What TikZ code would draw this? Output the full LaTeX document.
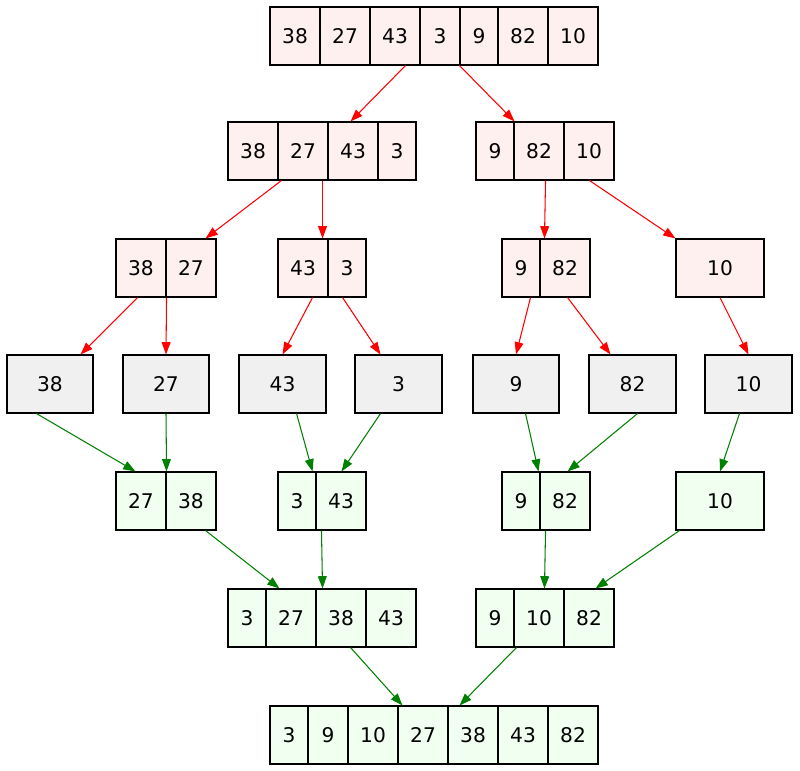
\documentclass[tikz,border=0pt]{standalone}
\usepackage{fontspec}
\setmainfont{DejaVu Sans}
\usetikzlibrary{arrows.meta}

\definecolor{splitfill}{HTML}{FFF0F0}
\definecolor{mergefill}{HTML}{F0FFF0}
\definecolor{leaffill}{HTML}{F0F0F0}
\definecolor{mergeline}{HTML}{008000}

\newcommand{\px}{*0.02cm}

% one array of cells: name, y, fill, list of left/right/label
\newcommand{\cellrow}[4]{%
  \foreach \l/\r/\t [count=\i] in {#4}
    \node[cell, fill=#3, minimum width={(\r-\l)\px}] (#1-\i) at ({(\l+\r)/2},#2) {\t};
}

\begin{document}
\begin{tikzpicture}[
            x = 0.02cm, y = -0.02cm, % pixel grid
            > = {Triangle[length=7pt,width=5pt]},
            line width = 0.6pt,
            cell/.style = {draw = black, inner sep = 0pt, minimum height = 1.16cm,
                           font = \fontsize{11.5}{13}\selectfont},
            split/.style = {->, red},
            merge/.style = {->, mergeline}
        ]

        \useasboundingbox (0,0) rectangle (800,770);

        % splitting
        \cellrow{top}{36}{splitfill}{270/320/38, 320/370/27, 370/420/43, 420/460/3, 460/498/9, 498/548/82, 548/598/10}
        \cellrow{la}{151}{splitfill}{228/278/38, 278/328/27, 328/378/43, 378/416/3}
        \cellrow{ra}{151}{splitfill}{476/514/9, 514/564/82, 564/614/10}
        \cellrow{lla}{268}{splitfill}{116/166/38, 166/216/27}
        \cellrow{lra}{268}{splitfill}{278/328/43, 328/366/3}
        \cellrow{rla}{268}{splitfill}{502/540/9, 540/590/82}
        \cellrow{rra}{268}{splitfill}{676/764/10}

        % single items
        \cellrow{s1}{384}{leaffill}{7/93/38}
        \cellrow{s2}{384}{leaffill}{123/209/27}
        \cellrow{s3}{384}{leaffill}{239/326/43}
        \cellrow{s4}{384}{leaffill}{355/442/3}
        \cellrow{s5}{384}{leaffill}{473/559/9}
        \cellrow{s6}{384}{leaffill}{589/676/82}
        \cellrow{s7}{384}{leaffill}{705/792/10}

        % merging
        \cellrow{llm}{501}{mergefill}{116/166/27, 166/216/38}
        \cellrow{lrm}{501}{mergefill}{278/316/3, 316/366/43}
        \cellrow{rlm}{501}{mergefill}{502/540/9, 540/590/82}
        \cellrow{rrm}{501}{mergefill}{676/764/10}
        \cellrow{lm}{618}{mergefill}{228/266/3, 266/316/27, 316/366/38, 366/416/43}
        \cellrow{rm}{618}{mergefill}{476/514/9, 514/564/10, 564/614/82}
        \cellrow{res}{735}{mergefill}{270/308/3, 308/348/9, 348/398/10, 398/448/27, 448/498/38, 498/548/43, 548/598/82}

        \draw[split] ([xshift=-15\px]top-3.south east) -- ([xshift=-28\px]la-3.north east);
        \draw[split] (top-5.south west) -- (ra-1.north east);
        \draw[split] ([xshift=4\px]la-2.south west) -- ([xshift=-11\px]lla-2.north east);
        \draw[split] ([xshift=-6\px]la-2.south east) -- ([xshift=-6\px]lra-1.north east);
        \draw[split] ([xshift=-19\px]ra-2.south east) -- ([xshift=5\px]rla-2.north west);
        \draw[split] ([xshift=26\px]ra-3.south west) -- (rra-1.north west);
        \draw[split] ([xshift=-29\px]lla-1.south east) -- ([xshift=-13\px]s1-1.north east);
        \draw[split] (lla-1.south east) -- (s2-1.north);
        \draw[split] ([xshift=-16\px]lra-1.south east) -- (s3-1.north);
        \draw[split] ([xshift=-24\px]lra-2.south east) -- ([xshift=-18\px]s4-1.north);
        \draw[split] ([xshift=-10\px]rla-1.south east) -- (s5-1.north);
        \draw[split] ([xshift=-23\px]rla-2.south east) -- ([xshift=-66\px]s6-1.north east);
        \draw[split] (rra-1.south) -- (s7-1.north);

        \draw[merge] ([xshift=30\px]s1-1.south west) -- ([xshift=-31\px]llm-1.north east);
        \draw[merge] (s2-1.south) -- (llm-1.north east);
        \draw[merge] ([xshift=-30\px]s3-1.south east) -- ([xshift=-4\px]lrm-1.north east);
        \draw[merge] ([xshift=-62\px]s4-1.south east) -- ([xshift=26\px]lrm-2.north west);
        \draw[merge] ([xshift=-34\px]s5-1.south east) -- ([xshift=-2\px]rlm-1.north east);
        \draw[merge] ([xshift=-39\px]s6-1.south east) -- ([xshift=28\px]rlm-2.north west);
        \draw[merge] ([xshift=35\px]s7-1.south west) -- (rrm-1.north);
        \draw[merge] ([xshift=-11\px]llm-2.south east) -- ([xshift=14\px]lm-2.north west);
        \draw[merge] ([xshift=6\px]lrm-2.south west) -- ([xshift=6\px]lm-2.north east);
        \draw[merge] ([xshift=5\px]rlm-1.south east) -- ([xshift=31\px]rm-2.north west);
        \draw[merge] ([xshift=4\px]rrm-1.south west) -- ([xshift=-19\px]rm-3.north east);
        \draw[merge] ([xshift=-16\px]lm-3.south east) -- ([xshift=5\px]res-4.north west);
        \draw[merge] ([xshift=3\px]rm-2.south west) -- ([xshift=12\px]res-5.north west);

  \end{tikzpicture}
\end{document}
